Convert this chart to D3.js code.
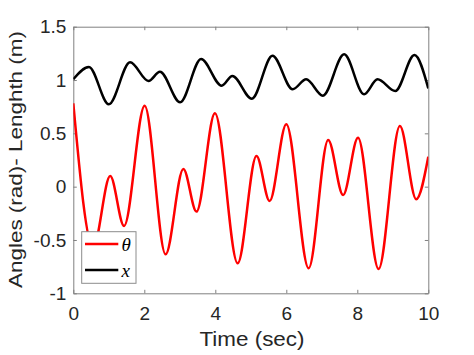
<!DOCTYPE html>
<html><head><meta charset="utf-8">
<script src="https://cdn.jsdelivr.net/npm/d3@7"></script>
<style>
body{margin:0;background:#fff}
svg text{font-family:"Liberation Sans",Arial,Helvetica,sans-serif;fill:#262626}
</style>
</head><body>
<svg id="chart" width="474" height="355"></svg>
<script>
// ---- data ----
const xTickValues = [0, 2, 4, 6, 8, 10];
const yTickValues = [-1, -0.5, 0, 0.5, 1, 1.5];
const xTickLabels = ["0", "2", "4", "6", "8", "10"];
const yTickLabels = ["-1", "-0.5", "0", "0.5", "1", "1.5"];

// theta (rad): times of the turning points and their values
const thetaTime   = [0, 0.56, 1.04, 1.43, 2.01, 2.60, 3.10, 3.47, 3.99, 4.63, 5.16, 5.53, 6.00, 6.63, 7.18, 7.60, 8.02, 8.60, 9.20, 9.66, 10.0];
const thetaValues = [0.782, -0.57, 0.100, -0.368, 0.759, -0.634, 0.166, -0.234, 0.688, -0.718, 0.288, -0.134, 0.585, -0.765, 0.438, -0.078, 0.459, -0.772, 0.569, -0.117, 0.281];

// x (m): times of the turning points and their values
const lenTime   = [0, 0.44, 1.00, 1.60, 2.12, 2.44, 3.01, 3.60, 4.18, 4.48, 5.03, 5.61, 6.18, 6.56, 7.03, 7.63, 8.19, 8.57, 9.07, 9.61, 10.0];
const lenValues = [1.007, 1.122, 0.772, 1.166, 0.991, 1.078, 0.791, 1.197, 0.947, 1.038, 0.825, 1.228, 0.913, 1.007, 0.853, 1.241, 0.866, 1.007, 0.897, 1.235, 0.922];

const seriesNames  = ["\u03B8", "x"];
const seriesColors = ["#ff0000", "#000000"];

const xLabel = "Time (sec)";
const yLabel = "Angles (rad)- Lenghth (m)";

// ---- layout ----
const W = 474, H = 355;
const L = 73.3, R = 428.3, T = 26.7, B = 293.3;

const svg = d3.select("#chart");
const x = d3.scaleLinear().domain([0, 10]).range([L, R]);
const y = d3.scaleLinear().domain([-1, 1.5]).range([B, T]);

const axisColor = "#262626";
const fs = 19;

function styleAxis(g){
  g.select(".domain").attr("stroke", "#808080").attr("stroke-width", 1);
  g.selectAll(".tick line").attr("stroke", "#808080").attr("stroke-width", 1);
  g.selectAll(".tick text").attr("font-size", fs).attr("fill", axisColor)
    .style("font-family", '"Liberation Sans", Arial, sans-serif');
}

// bottom axis
svg.append("g").attr("transform", `translate(0,${B})`)
  .call(d3.axisBottom(x).tickValues(xTickValues).tickFormat((d,i)=>xTickLabels[i])
        .tickSizeInner(-3.5).tickSizeOuter(0).tickPadding(13.5))
  .call(styleAxis);
// top axis
svg.append("g").attr("transform", `translate(0,${T})`)
  .call(d3.axisTop(x).tickValues(xTickValues).tickFormat("")
        .tickSizeInner(-3.5).tickSizeOuter(0))
  .call(styleAxis);
// left axis
svg.append("g").attr("transform", `translate(${L},0)`)
  .call(d3.axisLeft(y).tickValues(yTickValues).tickFormat((d,i)=>yTickLabels[i])
        .tickSizeInner(-3.5).tickSizeOuter(0).tickPadding(7))
  .call(styleAxis);
// right axis
svg.append("g").attr("transform", `translate(${R},0)`)
  .call(d3.axisRight(y).tickValues(yTickValues).tickFormat("")
        .tickSizeInner(-3.5).tickSizeOuter(0))
  .call(styleAxis);

// ---- lines ----
svg.append("clipPath").attr("id", "plotclip")
  .append("rect").attr("x", L).attr("y", T).attr("width", R - L).attr("height", B - T);

const line = d3.line().x(d => x(d[0])).y(d => y(d[1])).curve(d3.curveMonotoneX);

const series = [
  d3.zip(thetaTime, thetaValues),
  d3.zip(lenTime, lenValues)
];

svg.append("g").attr("clip-path", "url(#plotclip)")
  .selectAll("path").data(series).join("path")
  .attr("d", line)
  .attr("fill", "none")
  .attr("stroke", (d,i) => seriesColors[i])
  .attr("stroke-width", 2.5)
  .attr("stroke-linejoin", "round");

// ---- axis titles ----
svg.append("text").attr("x", 252).attr("y", 346)
  .attr("text-anchor", "middle").attr("font-size", 19.5)
  .attr("textLength", 105).attr("lengthAdjust", "spacingAndGlyphs")
  .text(xLabel);
svg.append("text")
  .attr("transform", `translate(21.5,159.5) rotate(-90)`)
  .attr("text-anchor", "middle").attr("font-size", 19)
  .attr("textLength", 257).attr("lengthAdjust", "spacingAndGlyphs")
  .text(yLabel);

// ---- legend ----
const lg = svg.append("g");
lg.append("rect").attr("x", 81.7).attr("y", 231.7).attr("width", 54.3).attr("height", 51.6)
  .attr("fill", "#fff").attr("stroke", "#8c8c8c").attr("stroke-width", 1);
const lgY = [244, 270];
seriesNames.forEach((name, i) => {
  lg.append("line").attr("x1", 85).attr("x2", 118.3).attr("y1", lgY[i]).attr("y2", lgY[i])
    .attr("stroke", seriesColors[i]).attr("stroke-width", 2.5);
  lg.append("text").attr("x", 121.5).attr("y", lgY[i] + 6.5)
    .attr("font-size", 19).attr("font-style", "italic")
    .style("font-family", '"Liberation Serif", "Times New Roman", serif')
    .style("fill", "#000")
    .text(name);
});
</script>
</body></html>
